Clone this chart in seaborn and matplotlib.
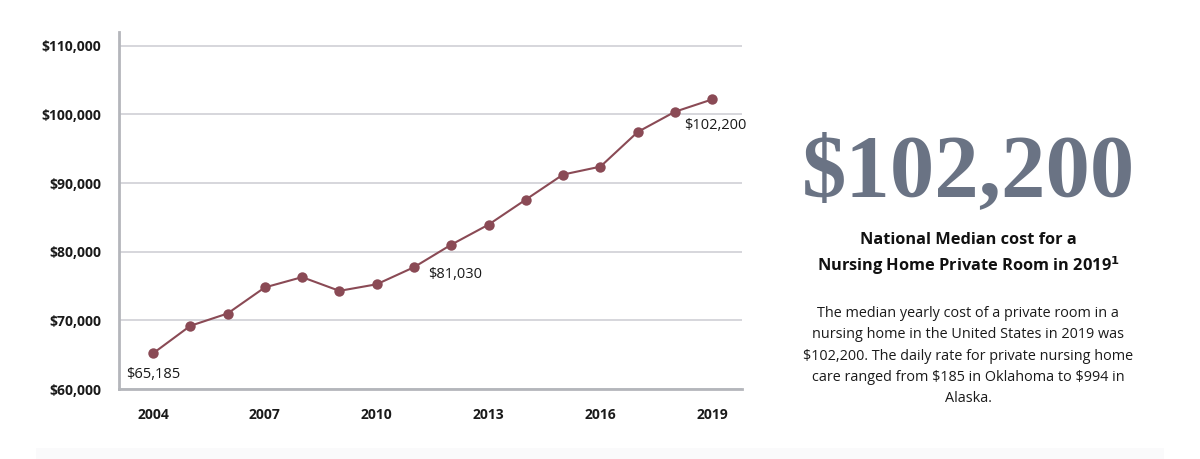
import pandas as pd
import matplotlib.pyplot as plt
import matplotlib.ticker as mticker
import seaborn as sns

years = [2004, 2005, 2006, 2007, 2008, 2009, 2010, 2011, 2012,
         2013, 2014, 2015, 2016, 2017, 2018, 2019]
costs = [65185, 69200, 71000, 74800, 76300, 74300, 75260, 77745, 81030,
         83950, 87600, 91250, 92400, 97450, 100400, 102200]
x_ticks = [2004, 2007, 2010, 2013, 2016, 2019]
y_ticks = [60000, 70000, 80000, 90000, 100000, 110000]
callouts = {2004: r"\$65,185", 2011: r"\$81,030", 2019: r"\$102,200"}

LINE = "#8a4a55"
GRID = "#cfd0d6"
SPINE = "#b4b6bb"


def main() -> None:
    sns.set_style("white")
    plt.rcParams["font.family"] = ["Open Sans", "DejaVu Sans"]

    df = pd.DataFrame({"year": years, "cost": costs})
    fig = plt.figure(figsize=(12, 4.59), dpi=100)
    ax = fig.add_axes([0.0992, 0.1525, 0.5192, 0.7775])

    sns.lineplot(data=df, x="year", y="cost", ax=ax, color=LINE, linewidth=1.5,
                 marker="o", markersize=7.5, markeredgewidth=0, zorder=3)

    ax.set_xlim(2003.09, 2019.8)
    ax.set_ylim(60000, 112000)
    ax.set_xticks(x_ticks)
    ax.set_yticks(y_ticks)
    ax.yaxis.set_major_formatter(mticker.FuncFormatter(lambda v, p: f"\\${v:,.0f}"))
    ax.tick_params(axis="both", length=0, labelsize=10, colors="#1a1a1a")
    ax.tick_params(axis="y", pad=13)
    ax.tick_params(axis="x", pad=14)
    for lab in ax.get_xticklabels() + ax.get_yticklabels():
        lab.set_fontweight("bold")
    ax.set_xlabel("")
    ax.set_ylabel("")
    ax.grid(axis="y", color=GRID, linewidth=1.2)
    ax.set_axisbelow(True)
    for s in ["top", "right"]:
        ax.spines[s].set_visible(False)
    for s in ["left", "bottom"]:
        ax.spines[s].set_color(SPINE)
        ax.spines[s].set_linewidth(2)

    # value callouts
    ax.annotate(callouts[2004], (2004, costs[0]), xytext=(0, -15),
                textcoords="offset points", ha="center", va="center",
                fontsize=10.5, color="#1a1a1a")
    ax.annotate(callouts[2011], (2011, costs[7]), xytext=(10, -5),
                textcoords="offset points", ha="left", va="center",
                fontsize=10.5, color="#1a1a1a")
    ax.annotate(callouts[2019], (2019, costs[-1]), xytext=(-20, -19),
                textcoords="offset points", ha="left", va="center",
                fontsize=10.5, color="#1a1a1a")

    # right-hand text panel
    fig.text(0.807, 0.6225, r"\$102,200", ha="center", va="center",
             fontsize=64, fontweight="bold", family=["Liberation Serif"],
             color="#6a7384")
    fig.text(0.807, 0.477, "National Median cost for a", ha="center", va="center",
             fontsize=11.8, fontweight="bold", color="#111111")
    fig.text(0.807, 0.422, r"Nursing Home Private Room in 2019$^{\mathbf{1}}$",
             ha="center", va="center", fontsize=11.8, fontweight="bold",
             color="#111111")
    body = ("The median yearly cost of a private room in a\n"
            "nursing home in the United States in 2019 was\n"
            "\\$102,200. The daily rate for private nursing home\n"
            "care ranged from \\$185 in Oklahoma to \\$994 in\n"
            "Alaska.")
    fig.text(0.807, 0.2244, body, ha="center", va="center", fontsize=10.4,
             color="#1a1a1a", linespacing=1.55)

    # faint band along the bottom edge
    fig.patches.append(plt.Rectangle((0.03, 0.0), 0.94, 0.024, transform=fig.transFigure,
                                     facecolor="#fafafb", edgecolor="none", zorder=0))

    fig.savefig("out.png", dpi=100)


if __name__ == "__main__":
    main()
